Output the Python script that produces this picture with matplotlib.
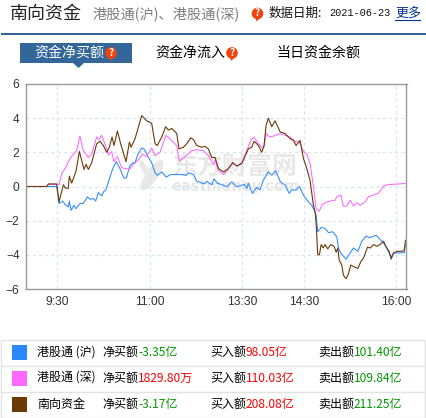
import matplotlib
matplotlib.use("Agg")
import matplotlib.pyplot as plt
from matplotlib.patches import Rectangle, Circle, Polygon, Ellipse

plt.rcParams['font.family'] = ['Noto Sans CJK SC', 'DejaVu Sans']

# Minutes of trading time since 9:00 (lunch removed)
tick_minutes = [30, 120, 210, 270, 360]
tick_labels = ['9:30', '11:00', '13:30', '14:30', '16:00']
y_ticks = [-6, -4, -2, 0, 2, 4, 6]

sh_t = [0, 29.4, 31.7, 35.2, 37.5, 40.7, 41.7, 43.4, 46.3, 48.2, 52, 54.7, 57, 59.3, 61.9, 65.1, 67.4, 70, 73.2, 75.2, 77.2, 81, 84.3, 87.5, 91.4, 94.6, 97.2, 100.5, 103.8, 105.4, 108.6, 112.2, 114.4, 118.7, 121.9, 125.2, 127.4, 131.7, 136, 140.4, 151.1, 155.4, 157.6, 162.5, 165.8, 169, 172.9, 175.5, 180.4, 182.6, 186, 190, 195, 199.8, 204.7, 209.6, 212.2, 214.5, 216, 219.9, 224, 227.3, 230.6, 235.5, 238.8, 242.7, 247.2, 252, 255.7, 258.3, 262.5, 265.8, 269.6, 274.5, 277.8, 281, 282, 283.6, 286.9, 290.7, 294, 298.2, 302.2, 303.8, 306, 311.2, 315, 318.3, 322.6, 326.5, 330.7, 334, 340.4, 344.3, 347.6, 351.5, 355.1, 357.3, 367.7, 369]
sh_v = [0, 0, -1.0, -0.85, -1.05, -1.2, -0.85, -1.4, -1.1, -1.3, -1.0, -1.0, -0.85, -0.6, -0.75, -0.7, -0.85, -0.35, -0.55, -0.3, -0.2, 0.5, 1.1, 1.45, 1.0, 0.5, 0.5, 1.2, 1.4, 1.35, 1.9, 2.25, 2.2, 1.7, 1.4, 0.8, 0.65, 0.85, 0.55, 0.7, 0.7, 0.65, 0.8, 0.7, 0.3, 0.25, 0.15, 0.3, 0.1, 0.45, 0.18, 0.12, -0.02, 0.27, -0.02, 0.08, 0.12, -0.12, 0.2, -0.4, -0.05, -0.2, 0.37, 0.86, 0.66, 0.92, 0.27, 0.08, -0.4, -0.2, -0.2, 0, -0.5, -0.9, -1.1, -1.5, -1.67, -2.65, -2.4, -2.45, -2.7, -2.65, -2.95, -3.6, -3.9, -4.25, -3.9, -3.6, -3.8, -3.2, -2.9, -3.0, -2.85, -3.1, -3.3, -3.7, -4.15, -3.9, -3.87, -3.35]

sz_t = [0, 20, 21.3, 29.4, 31.7, 34.3, 38.1, 43, 48.8, 52, 55.3, 60.2, 63.5, 68.3, 70.6, 73.2, 78.1, 79.7, 82.9, 85.2, 88.5, 92.7, 96.9, 100.2, 104, 108.9, 113.1, 117, 121.9, 125.2, 130, 135.8, 140.4, 146.3, 148.5, 152.8, 160.9, 165.8, 172.2, 177.1, 182, 183.6, 186.9, 191.7, 196.6, 200.8, 204.7, 209.6, 214.4, 219.3, 221.6, 225.8, 229, 231.3, 233.3, 236.5, 240.4, 246.9, 251.8, 256.6, 261.5, 265.7, 269.6, 272.9, 276.1, 279.4, 282, 285, 287.5, 290.7, 295.6, 300.5, 302.2, 306, 308.6, 311.9, 315.2, 318.4, 321.7, 324.9, 329.8, 333, 337.8, 342.7, 347.6, 352.4, 360.6, 368.7]
sz_v = [0, 0, 0.12, 0.12, 0.1, 0.75, 1.1, 1.7, 2.1, 2.95, 2.1, 1.7, 1.9, 2.9, 2.75, 3.0, 2.2, 1.85, 2.05, 1.45, 1.75, 1.1, 1.05, 1.0, 1.3, 1.55, 1.9, 1.75, 2.25, 1.8, 2.0, 3.0, 2.75, 2.4, 1.5, 1.65, 2.1, 2.15, 2.1, 1.8, 1.3, 1.55, 0.95, 0.7, 1.05, 1.35, 1.2, 1.35, 2.1, 2.8, 2.87, 2.5, 2.3, 2.3, 3.1, 2.9, 2.95, 3.1, 3.0, 2.9, 2.65, 2.6, 2.05, 1.9, 1.35, 0, -1.3, -1.45, -1.1, -0.95, -0.85, -0.8, -0.6, -0.5, -1.15, -1.15, -0.8, -1.15, -0.95, -1.1, -0.9, -0.6, -0.5, -0.4, 0.02, 0.12, 0.14, 0.18]

nb_t = [0, 19.6, 21.3, 29.4, 31.7, 35.9, 38.1, 40.7, 41.7, 44, 48.2, 51.5, 54.7, 56, 58, 60.2, 63.5, 68.3, 71.6, 74.8, 78.1, 80.7, 83.3, 85.2, 88.5, 91.7, 96.9, 100.2, 101.8, 105.7, 112.2, 117, 121.9, 125.2, 127.4, 131.7, 135.5, 138.2, 141.4, 146.3, 148.5, 152.8, 156, 160, 162.5, 165.8, 170.6, 173.9, 177.1, 180.4, 183.6, 186.9, 191.7, 196.6, 200.8, 204.7, 209.6, 216, 219.3, 221.6, 225.8, 229, 231.3, 233.3, 235.5, 238.8, 242, 246.9, 251.8, 256.6, 259.9, 262.5, 266.4, 269.6, 272.9, 276.1, 279.4, 281, 282, 283.6, 285.2, 286.9, 289, 290.7, 293.3, 296.2, 299.5, 301.5, 303.1, 304.4, 307, 308.6, 311.2, 313.5, 315.7, 319, 322.6, 325.5, 328.1, 332, 334.6, 337.8, 341.1, 344.3, 347.6, 350.8, 353.1, 355.1, 357.3, 360.6, 367.7, 369]
nb_v = [0, 0, 0.15, 0.15, -0.9, 0.1, -0.1, -0.1, 0.6, 0.2, 0.9, 2.05, 1.3, 1.0, 1.3, 1.0, 1.4, 2.5, 2.65, 2.4, 2.0, 2.3, 2.9, 2.4, 3.25, 2.5, 1.45, 2.6, 2.3, 2.8, 4.15, 3.85, 3.7, 2.5, 2.4, 2.9, 3.5, 3.3, 3.4, 3.1, 2.2, 2.3, 2.5, 2.85, 2.75, 2.4, 2.3, 2.35, 2.2, 1.7, 1.7, 1.05, 0.85, 1.05, 1.4, 1.2, 1.35, 2.2, 2.3, 2.65, 2.4, 2.0, 2.4, 3.6, 4.0, 3.5, 3.85, 3.2, 3.1, 2.8, 2.7, 2.4, 2.7, 1.65, 1.05, 0.35, -1.1, -1.5, -2.15, -4.0, -4.0, -3.4, -3.6, -3.4, -3.65, -3.4, -3.5, -3.85, -3.6, -4.3, -4.6, -5.2, -5.4, -5.1, -4.6, -4.7, -4.8, -4.4, -4.2, -3.55, -3.6, -3.4, -3.5, -3.4, -3.2, -3.6, -3.8, -4.25, -3.9, -3.8, -3.77, -3.15]

legend_names = ['港股通 (沪)', '港股通 (深)', '南向资金']
legend_net = ['-3.35亿', '1829.80万', '-3.17亿']
legend_buy = ['98.05亿', '110.03亿', '208.08亿']
legend_sell = ['101.40亿', '109.84亿', '211.25亿']

BLUE, PINK, BROWN = '#2b89ff', '#ff66ff', '#6b3a07'
WM = '#e8e8e8'
W, H = 427, 418
fs = lambda px: px * 0.72

fig = plt.figure(figsize=(W / 100, H / 100), dpi=100, facecolor='white')

ui = fig.add_axes([0, 0, 1, 1], zorder=0)
ui.set_xlim(0, W)
ui.set_ylim(H, 0)
ui.axis('off')

# header
ui.text(10, 14, '南向资金', fontsize=fs(18), color='#222222', va='center')
ui.text(92, 14, '港股通(沪)、港股通(深)', fontsize=fs(14.2), color='#7f7f7f', va='center')
ui.text(269, 13, '数据日期:', fontsize=fs(12.5), color='#111111', va='center')
ui.text(329, 13, '2021-06-23', fontsize=fs(10.2), color='#111111', va='center', family=['Liberation Mono'])
ui.text(395, 13, '更多', fontsize=fs(13), color='#003399', va='center')
ui.plot([395, 420], [20, 20], color='#003399', lw=0.8)
ui.add_patch(Rectangle((1, 33), 425, 2, fc='#336699', ec='none'))


def q_icon(x, y):
    ui.add_patch(Polygon([[x - 2, y + 4], [x + 3, y + 4], [x - 1, y + 8]], fc='#f0440f', ec='none'))
    ui.add_patch(Circle((x, y), 5.8, fc='#f0440f', ec='none'))
    ui.text(x, y, '?', color='white', fontsize=fs(10), fontweight='bold', ha='center', va='center')


q_icon(257.5, 13.5)

# tabs
ui.add_patch(Rectangle((20, 43), 112, 20, fc='#336699', ec='none'))
ui.add_patch(Polygon([[73, 63], [84, 63], [78.5, 68]], fc='#336699', ec='none'))
ui.text(34, 53, '资金净买额', fontsize=fs(14), color='white', va='center')
q_icon(111, 53)
ui.text(155, 53, '资金净流入', fontsize=fs(14), color='black', va='center')
q_icon(232, 53)
ui.text(276, 53, '当日资金余额', fontsize=fs(14), color='black', va='center')

# watermark
ui.add_patch(Ellipse((152, 175), 12, 36, angle=35, fc=WM, ec='none'))
ui.add_patch(Ellipse((144, 168), 6, 17, angle=-25, fc=WM, ec='none'))
ui.text(235, 167, '东方财富网', fontsize=fs(25), color=WM, fontweight='bold', ha='center', va='center')
ui.text(235, 186, 'eastmoney.com', fontsize=fs(14.5), color=WM, fontweight='bold',
        ha='center', va='center', family=['DejaVu Sans'])

# legend table
ui.add_patch(Rectangle((1.5, 339.5), 423.5, 78, fc='none', ec='#e2e2e2', lw=1))
for y in (365.5, 391.5):
    ui.plot([1.5, 425], [y, y], color='#e2e2e2', lw=1)
for i, c in enumerate((BLUE, PINK, BROWN)):
    yc = 352.5 + 26 * i
    ui.add_patch(Rectangle((12, yc - 7.5), 15, 15, fc=c, ec='none'))
    ui.text(37, yc, legend_names[i], fontsize=fs(12), color='black', va='center')
    ui.text(102, yc, '净买额', fontsize=fs(12), color='black', va='center')
    ui.text(138, yc, legend_net[i], fontsize=fs(12), va='center',
            color='#ff0000' if i == 1 else '#009900')
    ui.text(210, yc, '买入额', fontsize=fs(12), color='black', va='center')
    ui.text(246, yc, legend_buy[i], fontsize=fs(12), color='#ff0000', va='center')
    ui.text(318, yc, '卖出额', fontsize=fs(12), color='black', va='center')
    ui.text(354, yc, legend_sell[i], fontsize=fs(12), color='#009900', va='center')

# chart
ax = fig.add_axes([26.5 / W, 1 - 289 / H, 380 / W, 205 / H], zorder=1)
ax.patch.set_alpha(0)
ax.set_xlim(0, 370)
ax.set_ylim(-6, 6)
ax.set_xticks(tick_minutes, tick_labels)
ax.set_yticks(y_ticks)
ax.tick_params(length=0, labelsize=fs(12), labelcolor='#333333', pad=5)
for lab in ax.get_xticklabels() + ax.get_yticklabels():
    lab.set_family('Liberation Sans')
ax.grid(True, color='#d5e5f2', lw=0.9, ls=(0, (2.5, 2.5)))
ax.set_axisbelow(True)
for s in ax.spines.values():
    s.set_color('#999999')
    s.set_linewidth(1.0)
ax.plot(sh_t, sh_v, color=BLUE, lw=0.75)
ax.plot(sz_t, sz_v, color=PINK, lw=0.75)
ax.plot(nb_t, nb_v, color=BROWN, lw=0.8)

fig.savefig('out.png', dpi=100)
